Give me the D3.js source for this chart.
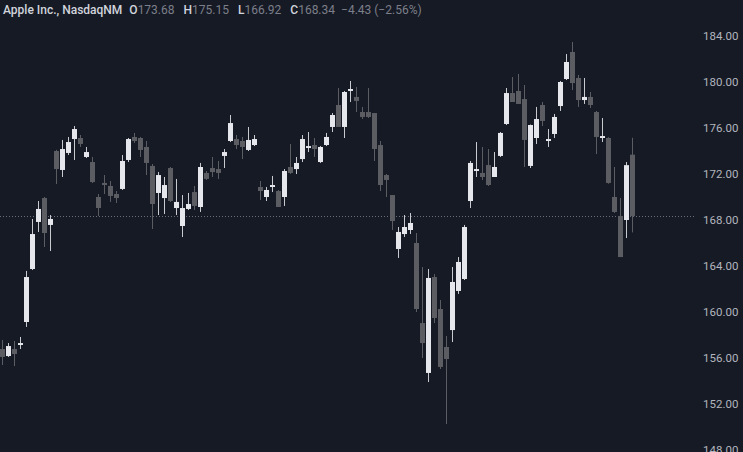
<!DOCTYPE html>
<html><head><meta charset="utf-8">
<script src="https://cdn.jsdelivr.net/npm/d3@7"></script>
<style>html,body{margin:0;padding:0;background:#161a25;overflow:hidden}</style>
</head><body>
<svg id="c" width="743" height="452"></svg>
<script>
const open = [156.78,156.17,156.78,157.13,159.13,163.74,167.83,169.91,167.57,174.00,
172.35,173.83,175.04,175.13,173.48,173.04,170.00,171.22,170.96,170.26,
170.70,173.22,175.22,175.13,174.35,172.70,170.35,169.91,172.52,169.04,
167.48,168.96,170.43,169.13,172.09,172.52,172.43,173.57,174.87,175.04,
174.87,174.09,174.52,170.87,170.00,170.87,170.52,170.00,172.61,172.43,
173.30,174.26,174.52,173.04,174.52,176.09,178.00,176.09,179.22,178.70,
177.39,177.39,177.30,174.52,171.91,170.17,165.48,166.78,167.13,166.00,
159.04,154.70,163.04,160.26,156.96,158.43,161.83,162.87,169.65,172.26,
172.09,172.78,171.74,173.57,176.35,179.04,179.22,178.52,172.70,175.13,
178.00,174.87,175.48,177.91,180.26,182.61,180.35,178.43,178.70,177.39,
175.13,175.13,170.00,168.35,168.00,173.68];
const close = [156.09,157.04,156.35,157.30,163.04,166.78,168.96,166.87,168.09,172.43,
174.17,174.78,175.91,174.61,173.91,171.30,169.04,171.04,170.09,169.91,
173.13,175.04,174.87,174.09,172.96,169.39,171.91,171.04,169.65,169.57,
169.04,169.39,169.22,172.61,171.57,172.17,172.09,173.91,176.43,174.52,
174.35,174.96,175.04,170.52,170.61,171.04,169.13,172.26,172.09,172.96,
175.04,174.43,174.17,174.35,175.22,177.13,176.09,179.13,179.39,178.35,
176.96,176.96,174.17,171.04,171.48,167.91,166.96,167.39,167.74,160.26,
157.30,162.96,159.48,155.22,155.91,162.61,164.35,167.39,172.96,172.43,
171.74,171.04,172.61,175.57,179.04,178.26,178.09,174.96,176.26,176.78,
176.61,175.04,176.96,180.00,181.74,179.91,178.43,178.70,178.00,175.22,
175.30,171.22,168.70,164.78,172.77,168.34];
const high = [157.57,157.30,157.48,157.83,163.57,168.09,169.65,170.00,168.43,174.10,
174.96,175.22,176.17,175.39,174.35,173.48,170.26,171.91,171.39,170.52,
173.65,175.13,175.57,175.22,174.87,172.87,172.17,171.74,172.61,171.57,
170.17,170.35,170.96,172.96,172.26,173.48,173.13,174.17,177.13,175.39,
175.22,176.09,175.39,171.39,170.87,171.83,170.61,172.43,174.61,173.48,
175.39,175.65,175.13,174.43,175.57,177.30,179.48,179.22,180.09,179.57,
177.83,179.48,177.30,174.87,172.00,170.17,167.39,168.43,168.61,166.87,
163.91,163.74,163.30,161.04,157.91,163.91,164.78,167.57,173.13,174.78,
174.35,174.17,173.91,175.65,179.48,180.43,180.70,179.74,176.30,177.83,
178.26,175.91,177.22,180.09,182.43,183.48,180.61,180.35,179.13,177.48,
176.87,175.20,172.61,169.91,173.04,175.15];
const low = [155.39,156.09,155.30,156.78,158.70,163.65,166.96,165.65,165.30,171.13,
171.74,173.65,173.22,174.35,173.39,171.22,168.35,170.26,169.57,169.48,
170.61,173.04,174.70,173.48,171.91,167.22,168.43,168.52,169.57,168.43,
166.52,168.87,168.87,168.70,171.48,171.74,171.57,172.52,174.78,174.17,
173.30,174.00,174.43,169.74,169.65,170.43,169.13,169.22,172.00,172.00,
173.04,173.91,173.48,172.96,174.43,175.65,176.09,175.13,178.26,177.39,
176.78,176.87,173.13,170.52,170.00,167.13,164.70,166.52,166.78,160.00,
156.00,153.91,159.04,155.04,150.26,157.39,161.57,162.78,169.04,171.74,
171.48,170.96,171.74,173.48,176.26,178.26,178.09,172.61,172.52,174.61,
176.17,174.35,175.13,177.48,180.17,179.30,177.83,178.09,177.74,173.74,
174.78,171.15,168.61,164.78,166.43,166.92];
const yTicks = [148,152,156,160,164,168,172,176,180,184];
const title = "Apple Inc., NasdaqNM";
const lastPrice = 168.34;
const change = "\u22124.43 (\u22122.56%)";

const W = 743, H = 452;
const svg = d3.select("#c");
const upCol = "#e6e7ec", downCol = "#5c5d62", bg = "#161a25";
svg.append("rect").attr("width", W).attr("height", H).attr("fill", bg);

const idx = d3.range(open.length);
const x = d3.scalePoint().domain(idx).range([2, 632]);
const y = d3.scaleLinear().domain([148, 184]).range([450, 36]);
const bw = 5;

// last price dotted line
svg.append("line")
  .attr("x1", 0).attr("x2", 694)
  .attr("y1", Math.round(y(lastPrice)) + 0.5).attr("y2", Math.round(y(lastPrice)) + 0.5)
  .attr("stroke", "#6a6d78").attr("stroke-width", 1).attr("stroke-dasharray", "1,2");

const g = svg.append("g");
const c = g.selectAll("g.k").data(idx).join("g").attr("class", "k");
c.append("line")
  .attr("x1", i => Math.round(x(i)) + 0.5).attr("x2", i => Math.round(x(i)) + 0.5)
  .attr("y1", i => y(high[i])).attr("y2", i => y(low[i]))
  .attr("stroke", i => close[i] >= open[i] ? "#c9cad0" : downCol).attr("stroke-width", 1);
c.append("rect")
  .attr("x", i => Math.round(x(i)) + 0.5 - bw / 2)
  .attr("width", bw)
  .attr("y", i => y(Math.max(open[i], close[i])))
  .attr("height", i => Math.max(1, Math.abs(y(open[i]) - y(close[i]))))
  .attr("fill", i => close[i] >= open[i] ? upCol : downCol);

// right axis
const axis = d3.axisRight(y).tickValues(yTicks).tickFormat(d3.format(".2f")).tickSize(0).tickPadding(0);
const ag = svg.append("g").attr("transform", "translate(703,0)").call(axis);
ag.select(".domain").remove();
ag.selectAll("text").attr("fill", "#b2b5be").attr("font-size", "11.5px")
  .attr("font-family", "Roboto, 'Noto Sans', sans-serif");

// header legend
const t = svg.append("text").attr("x", 3).attr("y", 14)
  .attr("font-family", "Roboto, 'Noto Sans', sans-serif").attr("font-size", "12px")
  .attr("font-weight", 500);
const fmt = d3.format(".2f");
const n = open.length - 1;
t.append("tspan").attr("fill", "#d1d4dc").text(title);
[["O", open[n]], ["H", high[n]], ["L", low[n]], ["C", close[n]]].forEach(([k, v], j) => {
  t.append("tspan").attr("fill", "#d1d4dc").attr("dx", j === 0 ? 7 : 9).text(k);
  t.append("tspan").attr("fill", "#7c7f89").attr("font-weight", 400).text(fmt(v));
});
t.append("tspan").attr("fill", "#7c7f89").attr("font-weight", 400).attr("dx", 6).text(change);
</script>
</body></html>
